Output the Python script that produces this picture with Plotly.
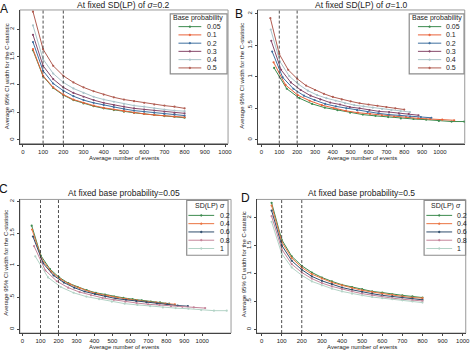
import plotly.graph_objects as go

W, H = 474, 350
FONT = "Liberation Sans, Arial, sans-serif"
TXT = "#222222"

# ---------------- DATA ----------------
# Panel A: fixed SD(LP) sigma = 0.2, series = base probability
a_names = ["0.05", "0.1", "0.2", "0.3", "0.4", "0.5"]
a_x = [50, 100, 150, 200, 250, 300, 350, 400, 450, 500, 550, 600, 650, 700, 750, 800]
a_y_005 = [1.62, 1.15, 0.94, 0.81, 0.72, 0.66, 0.61, 0.57, 0.54, 0.51, 0.49, 0.47, 0.45, 0.43, 0.42, 0.40]
a_y_01 = [1.64, 1.16, 0.95, 0.82, 0.73, 0.67, 0.62, 0.58, 0.55, 0.52, 0.49, 0.47, 0.45, 0.44, 0.42, 0.41]
a_y_02 = [1.77, 1.25, 1.02, 0.89, 0.79, 0.72, 0.67, 0.63, 0.59, 0.56, 0.53, 0.51, 0.49, 0.47, 0.46, 0.44]
a_y_03 = [1.90, 1.34, 1.10, 0.95, 0.85, 0.78, 0.72, 0.67, 0.63, 0.60, 0.57, 0.55, 0.53, 0.51, 0.49, 0.48]
a_y_04 = [2.07, 1.46, 1.20, 1.04, 0.93, 0.85, 0.78, 0.73, 0.69, 0.65, 0.62, 0.60, 0.57, 0.55, 0.53, 0.52]
a_y_05 = [2.32, 1.64, 1.34, 1.16, 1.04, 0.95, 0.88, 0.82, 0.77, 0.73, 0.70, 0.67, 0.64, 0.62, 0.60, 0.57]

# Panel B: fixed SD(LP) sigma = 1.0, series = base probability
b_names = ["0.05", "0.1", "0.2", "0.3", "0.4", "0.5"]
b_x_005 = [71, 142, 213, 284, 355, 426, 497, 568, 639, 710, 781, 852, 923, 994, 1065, 1136]
b_x_01 = [68, 135, 203, 270, 338, 405, 473, 540, 608, 675, 743, 810, 878, 945, 1013, 1080]
b_x_02 = [60, 119, 179, 238, 298, 357, 417, 476, 536, 595, 655, 714, 774, 833, 893, 952]
b_x_03 = [55, 110, 165, 220, 275, 330, 385, 440, 495, 550, 605, 660, 715, 770, 825, 880]
b_x_04 = [52, 104, 156, 208, 260, 312, 364, 416, 468, 520, 572, 624, 676, 728, 780, 832]
b_x_05 = [50, 100, 150, 200, 250, 300, 350, 400, 450, 500, 550, 600, 650, 700, 750, 800]
b_y_005 = [1.14, 0.81, 0.66, 0.57, 0.51, 0.47, 0.43, 0.40, 0.38, 0.36, 0.34, 0.33, 0.32, 0.30, 0.29, 0.29]
b_y_01 = [1.23, 0.87, 0.71, 0.62, 0.55, 0.50, 0.46, 0.43, 0.41, 0.39, 0.37, 0.36, 0.34, 0.33, 0.32, 0.31]
b_y_02 = [1.40, 0.99, 0.81, 0.70, 0.63, 0.57, 0.53, 0.50, 0.47, 0.44, 0.42, 0.40, 0.39, 0.37, 0.36, 0.35]
b_y_03 = [1.57, 1.11, 0.91, 0.79, 0.70, 0.64, 0.59, 0.56, 0.52, 0.50, 0.47, 0.45, 0.44, 0.42, 0.41, 0.39]
b_y_04 = [1.75, 1.24, 1.01, 0.88, 0.78, 0.71, 0.66, 0.62, 0.58, 0.55, 0.53, 0.51, 0.49, 0.47, 0.45, 0.44]
b_y_05 = [1.93, 1.36, 1.11, 0.97, 0.86, 0.79, 0.73, 0.68, 0.64, 0.61, 0.58, 0.56, 0.54, 0.52, 0.50, 0.48]

# Panel C: fixed base probability = 0.05, series = SD(LP) sigma
c_names = ["0.2", "0.4", "0.6", "0.8", "1"]
c_x_02 = [51, 102, 153, 204, 255, 306, 357, 408, 459, 510, 561, 612, 663, 714, 765, 816]
c_x_04 = [53, 106, 159, 212, 265, 318, 371, 424, 477, 530, 583, 636, 689, 742, 795, 848]
c_x_06 = [58, 115, 173, 230, 288, 345, 403, 460, 518, 575, 633, 690, 748, 805, 863, 920]
c_x_08 = [64, 127, 191, 254, 318, 381, 445, 508, 572, 635, 699, 762, 826, 889, 953, 1016]
c_x_1 = [71, 142, 213, 284, 355, 426, 497, 568, 639, 710, 781, 852, 923, 994, 1065, 1136]
c_y_02 = [1.62, 1.15, 0.94, 0.81, 0.72, 0.66, 0.61, 0.57, 0.54, 0.51, 0.49, 0.47, 0.45, 0.43, 0.42, 0.40]
c_y_04 = [1.56, 1.10, 0.90, 0.78, 0.70, 0.64, 0.59, 0.55, 0.52, 0.49, 0.47, 0.45, 0.43, 0.42, 0.40, 0.39]
c_y_06 = [1.45, 1.03, 0.84, 0.73, 0.65, 0.59, 0.55, 0.51, 0.48, 0.46, 0.44, 0.42, 0.40, 0.39, 0.37, 0.36]
c_y_08 = [1.30, 0.92, 0.75, 0.65, 0.58, 0.53, 0.49, 0.46, 0.43, 0.41, 0.39, 0.38, 0.36, 0.35, 0.34, 0.33]
c_y_1 = [1.14, 0.81, 0.66, 0.57, 0.51, 0.47, 0.43, 0.40, 0.38, 0.36, 0.34, 0.33, 0.32, 0.30, 0.29, 0.29]

# Panel D: fixed base probability = 0.5, series = SD(LP) sigma
d_names = ["0.2", "0.4", "0.6", "0.8", "1"]
d_x = [50, 100, 150, 200, 250, 300, 350, 400, 450, 500, 550, 600, 650, 700, 750, 800]
d_y_02 = [2.27, 1.61, 1.31, 1.14, 1.02, 0.93, 0.86, 0.80, 0.76, 0.72, 0.68, 0.66, 0.63, 0.61, 0.59, 0.57]
d_y_04 = [2.22, 1.57, 1.28, 1.11, 0.99, 0.91, 0.84, 0.79, 0.74, 0.70, 0.67, 0.64, 0.62, 0.59, 0.57, 0.56]
d_y_06 = [2.13, 1.51, 1.23, 1.07, 0.95, 0.87, 0.81, 0.75, 0.71, 0.67, 0.64, 0.61, 0.59, 0.57, 0.55, 0.53]
d_y_08 = [2.03, 1.44, 1.17, 1.02, 0.91, 0.83, 0.77, 0.72, 0.68, 0.64, 0.61, 0.59, 0.56, 0.54, 0.52, 0.51]
d_y_1 = [1.93, 1.36, 1.11, 0.97, 0.86, 0.79, 0.73, 0.68, 0.64, 0.61, 0.58, 0.56, 0.54, 0.52, 0.50, 0.48]

x_ticks = [0, 100, 200, 300, 400, 500, 600, 700, 800, 900, 1000]
y_ticks = [0, 0.5, 1, 1.5, 2]
y_tick_text = ["0", ".5", "1", "1.5", "2"]
ref_lines = [100, 200]

colors_p = ["#3d8b4f", "#e8623a", "#3f6f9f", "#86486a", "#a9c3c9", "#b15d52"]
colors_s = ["#3d8b4f", "#ea7440", "#2f4d6c", "#c4849a", "#b3d3c6"]

# ---------------- LAYOUT HELPERS ----------------
def fx(px):
    return px / W

def fy(py):
    return 1 - py / H

panels = [
    # key, box (l, t, r, b) px, xrange, yrange
    ("A", (20, 9, 230, 143), [-15, 1015], [-0.067, 2.35]),
    ("B", (259.7, 9, 468.7, 143), [-22, 1139], [-0.06, 2.06]),
    ("C", (20, 199, 233, 333), [-15, 1160], [-0.06, 2.03]),
    ("D", (258.7, 199, 469.7, 333), [-25, 1015], [-0.066, 2.33]),
]

fig = go.Figure()

series = {
    "A": [(a_x, a_y_005), (a_x, a_y_01), (a_x, a_y_02), (a_x, a_y_03), (a_x, a_y_04), (a_x, a_y_05)],
    "B": [(b_x_005, b_y_005), (b_x_01, b_y_01), (b_x_02, b_y_02), (b_x_03, b_y_03), (b_x_04, b_y_04), (b_x_05, b_y_05)],
    "C": [(c_x_02, c_y_02), (c_x_04, c_y_04), (c_x_06, c_y_06), (c_x_08, c_y_08), (c_x_1, c_y_1)],
    "D": [(d_x, d_y_02), (d_x, d_y_04), (d_x, d_y_06), (d_x, d_y_08), (d_x, d_y_1)],
}
names = {"A": a_names, "B": b_names, "C": c_names, "D": d_names}
cols = {"A": colors_p, "B": colors_p, "C": colors_s, "D": colors_s}

layout_axes = {}
shapes = []
annotations = []

for i, (key, (l, t, r, b), xr, yr) in enumerate(panels):
    n = i + 1
    xa = "xaxis" if n == 1 else f"xaxis{n}"
    ya = "yaxis" if n == 1 else f"yaxis{n}"
    xref = "x" if n == 1 else f"x{n}"
    yref = "y" if n == 1 else f"y{n}"
    layout_axes[xa] = dict(
        domain=[fx(l), fx(r)], range=xr, anchor=yref,
        tickvals=x_ticks, ticks="outside", ticklen=2, tickwidth=1,
        tickcolor="#444", showline=True, linecolor="#444", linewidth=1,
        showgrid=False, zeroline=False,
        tickfont=dict(family=FONT, size=6, color=TXT),
    )
    layout_axes[ya] = dict(
        domain=[fy(b), fy(t)], range=yr, anchor=xref,
        tickvals=y_ticks, ticktext=y_tick_text, tickangle=-90,
        ticks="outside", ticklen=2, tickwidth=1, tickcolor="#444",
        showline=True, linecolor="#444", linewidth=1,
        showgrid=False, zeroline=False,
        tickfont=dict(family=FONT, size=6, color=TXT),
    )
    # plot region outline (light)
    shapes.append(dict(type="rect", xref=f"{xref} domain", yref=f"{yref} domain",
                       x0=0, x1=1, y0=0, y1=1, line=dict(color="#9a9a9a", width=1),
                       layer="below"))
    # reference dashed lines
    for xv in ref_lines:
        shapes.append(dict(type="line", xref=xref, yref=f"{yref} domain",
                           x0=xv, x1=xv, y0=0, y1=1,
                           line=dict(color="#3a3a3a", width=0.9, dash="3px,2px")))
    for (xs, ys), nm, c in zip(series[key], names[key], cols[key]):
        fig.add_trace(go.Scatter(
            x=xs, y=ys, name=nm, mode="lines+markers", xaxis=xref, yaxis=yref,
            line=dict(color=c, width=1), marker=dict(color=c, size=2.2),
            showlegend=False,
        ))

# Titles, axis titles, panel letters
titles = [
    ("At fixed SD(LP) of <i>σ</i>=0.2", 125, 4.5),
    ("At fixed SD(LP) of <i>σ</i>=1.0", 365, 4.5),
    ("At fixed base probability=0.05", 125, 193),
    ("At fixed base probability=0.5", 365, 193),
]
for txt, x, y in titles:
    annotations.append(dict(text=txt, x=fx(x), y=fy(y), xref="paper", yref="paper",
                            showarrow=False, xanchor="center", yanchor="middle",
                            font=dict(family=FONT, size=8.5, color=TXT)))

xtitles = [(125, 157.5), (365, 157.5), (125, 346.5), (365, 346.5)]
for x, y in xtitles:
    annotations.append(dict(text="Average number of events", x=fx(x), y=fy(y),
                            xref="paper", yref="paper", showarrow=False,
                            xanchor="center", yanchor="middle", borderpad=0,
                            font=dict(family=FONT, size=6, color=TXT)))

ytitles = [(6.5, 75), (244, 75), (6.5, 262), (246, 264)]
for x, y in ytitles:
    annotations.append(dict(text="Average 95% CI width for the C-statistic", x=fx(x), y=fy(y),
                            xref="paper", yref="paper", showarrow=False, textangle=-90,
                            xanchor="center", yanchor="middle", borderpad=0,
                            font=dict(family=FONT, size=6, color=TXT)))

letters = [("A", 4, 8.5), ("B", 241.5, 13), ("C", 3.5, 188.5), ("D", 248, 198)]
for txt, x, y in letters:
    annotations.append(dict(text=txt, x=fx(x), y=fy(y), xref="paper", yref="paper",
                            showarrow=False, xanchor="center", yanchor="middle",
                            font=dict(family=FONT, size=12, color="#111")))

# Legends (drawn manually to match the compact Stata-style boxes)
legends = [
    # key, box (l, t, r, b), title, title(x,y), entry y list, line x0, x1, label x
    ("A", (171.7, 13, 229, 73), "Base probability", (200, 17.5),
     [25.7, 34, 42.3, 50.5, 58.8, 67.1], 180, 203, 206.5),
    ("B", (412.7, 13, 468, 73), "Base probability", (440.5, 17.5),
     [25.7, 34, 42.3, 50.5, 58.8, 67.1], 421.5, 445, 447.5),
    ("C", (188.3, 200, 230, 255), "SD(LP) <i>σ</i>", (211.5, 205.5),
     [215, 223.3, 231.6, 239.9, 248.2], 190, 216, 219.5),
    ("D", (427.7, 200, 469.5, 255), "SD(LP) <i>σ</i>", (450, 205.5),
     [215, 223.3, 231.6, 239.9, 248.2], 430, 456, 458.5),
]
for key, (l, t, r, b), ttl, (tx, ty), eys, lx0, lx1, labx in legends:
    shapes.append(dict(type="rect", xref="paper", yref="paper",
                       x0=fx(l), x1=fx(r), y0=fy(b), y1=fy(t),
                       line=dict(color="#8c8c8c", width=1.2), fillcolor="white"))
    annotations.append(dict(text=ttl, x=fx(tx), y=fy(ty), xref="paper", yref="paper",
                            showarrow=False, xanchor="center", yanchor="middle",
                            font=dict(family=FONT, size=7, color=TXT)))
    for ey, nm, c in zip(eys, names[key], cols[key]):
        shapes.append(dict(type="line", xref="paper", yref="paper",
                           x0=fx(lx0), x1=fx(lx1), y0=fy(ey), y1=fy(ey),
                           line=dict(color=c, width=1)))
        mx = (lx0 + lx1) / 2
        shapes.append(dict(type="circle", xref="paper", yref="paper",
                           x0=fx(mx - 0.9), x1=fx(mx + 0.9), y0=fy(ey + 0.9), y1=fy(ey - 0.9),
                           line=dict(color=c, width=0.5), fillcolor=c))
        annotations.append(dict(text=nm, x=fx(labx), y=fy(ey), xref="paper", yref="paper",
                                showarrow=False, xanchor="left", yanchor="middle",
                                font=dict(family=FONT, size=7, color=TXT)))

fig.update_layout(
    width=W, height=H, margin=dict(l=0, r=0, t=0, b=0),
    paper_bgcolor="white", plot_bgcolor="white",
    showlegend=False, shapes=shapes, annotations=annotations,
    font=dict(family=FONT, color=TXT),
    **layout_axes,
)

fig.write_html("out.html")
